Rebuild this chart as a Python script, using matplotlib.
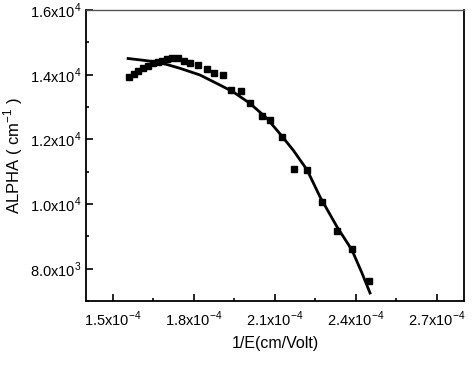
""" ALPHA vs 1/E: dados experimentais e curva ajustada """

import numpy as np
import matplotlib.pyplot as plt
from matplotlib.ticker import MultipleLocator

plt.rcParams['font.family'] = ['Liberation Sans', 'DejaVu Sans']
plt.rcParams['mathtext.fontset'] = 'custom'
plt.rcParams['mathtext.rm'] = 'Liberation Sans'

# Pontos experimentais (1/E em cm/Volt, ALPHA em cm^-1)
inv_e = np.array([1.559, 1.578, 1.593, 1.611, 1.630, 1.648, 1.667, 1.682,
                  1.700, 1.719, 1.741, 1.763, 1.785, 1.815, 1.848, 1.874,
                  1.907, 1.937, 1.974, 2.007, 2.052, 2.082, 2.126, 2.170,
                  2.219, 2.274, 2.330, 2.385, 2.448]) * 1e-4
alpha = np.array([13928, 14021, 14113, 14206, 14268, 14361, 14392, 14423,
                  14485, 14515, 14515, 14423, 14361, 14299, 14175, 14052,
                  13990, 13526, 13495, 13124, 12722, 12598, 12072, 11083,
                  11052, 10062, 9165, 8608, 7619])

# Curva ajustada
ajuste_x = np.array([1.556, 1.619, 1.674, 1.748, 1.822, 1.896, 1.944, 2.007,
                     2.070, 2.119, 2.167, 2.219, 2.267, 2.330, 2.385, 2.422,
                     2.452]) * 1e-4
ajuste_y = np.array([14500, 14438, 14376, 14197, 13990, 13680, 13473, 13114,
                     12650, 12165, 11670, 11052, 10216, 9289, 8577, 7866,
                     7247])

xticks = [1.5e-4, 1.8e-4, 2.1e-4, 2.4e-4, 2.7e-4]
xlabels = ['1.5x10$^{-4}$', '1.8x10$^{-4}$', '2.1x10$^{-4}$',
           '2.4x10$^{-4}$', '2.7x10$^{-4}$']
yticks = [8000, 10000, 12000, 14000, 16000]
ylabels = ['8.0x10$^{3}$', '1.0x10$^{4}$', '1.2x10$^{4}$',
           '1.4x10$^{4}$', '1.6x10$^{4}$']

fig = plt.figure(figsize=(4.74, 3.66), dpi=100)
ax = fig.add_axes([0.1814, 0.1776, 0.7975, 0.7951])

ax.plot(ajuste_x, ajuste_y, color='black', linewidth=2.0)
ax.plot(inv_e, alpha, linestyle='none', marker='s', markersize=4.5,
        color='black')

ax.set_xlim(1.4e-4, 2.8e-4)
ax.set_ylim(7000, 16000)
ax.set_xticks(xticks)
ax.set_xticklabels(xlabels)
ax.set_yticks(yticks)
ax.set_yticklabels(ylabels)
ax.xaxis.set_minor_locator(MultipleLocator(0.15e-4))
ax.yaxis.set_minor_locator(MultipleLocator(1000))
ax.tick_params(which='both', direction='in', labelsize=10.5, width=1.2)
ax.tick_params(which='major', length=5)
ax.tick_params(axis='x', which='major', pad=6)
ax.tick_params(axis='y', which='major', pad=3)
ax.tick_params(which='minor', length=2.5)

for lado in ['left', 'bottom', 'right']:
    ax.spines[lado].set_linewidth(1.3)
ax.spines['top'].set_linewidth(1.0)
ax.spines['top'].set_color('#555555')

ax.set_xlabel('1/E(cm/Volt)', fontsize=11.5, labelpad=5)
ax.set_ylabel('ALPHA ( cm$^{-1}$ )', fontsize=12, labelpad=4)

fig.savefig('out.png', dpi=100)
